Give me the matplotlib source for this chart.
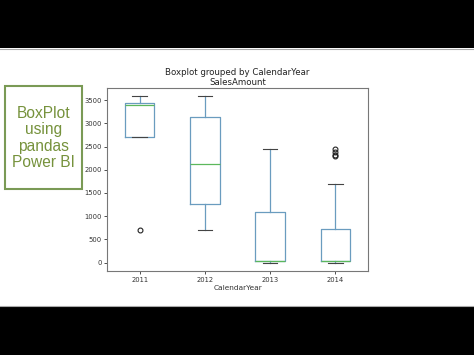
import matplotlib
matplotlib.use('Agg')
import matplotlib.pyplot as plt
from matplotlib.patches import Rectangle

# summary values
years    = ['2011', '2012', '2013', '2014']
q1       = [2700, 1265, 30, 25]
med      = [3400, 2130, 45, 35]
q3       = [3430, 3145, 1095, 735]
whis_lo  = [2700, 699, 2.3, 2.3]
whis_hi  = [3578, 3578, 2443, 1700]
fliers   = [[699], [], [], [2295, 2320, 2384, 2443]]

stats = []
for i in range(len(years)):
    stats.append({'label': years[i], 'q1': q1[i], 'med': med[i], 'q3': q3[i],
                  'whislo': whis_lo[i], 'whishi': whis_hi[i], 'fliers': fliers[i]})

fig = plt.figure(figsize=(4.74, 3.55), dpi=100)
fig.patch.set_facecolor('white')

# letterbox bars
fig.patches.append(Rectangle((0, 1 - 48 / 355), 1, 48 / 355, transform=fig.transFigure,
                             facecolor='black', edgecolor='none', zorder=0))
fig.patches.append(Rectangle((0, 0), 1, 49 / 355, transform=fig.transFigure,
                             facecolor='black', edgecolor='none', zorder=0))
fig.lines.append(plt.Line2D([0, 1], [1 - 48.5 / 355] * 2, transform=fig.transFigure,
                            color='#aaaaaa', lw=0.8))
fig.lines.append(plt.Line2D([0, 1], [49.5 / 355] * 2, transform=fig.transFigure,
                            color='#aaaaaa', lw=0.8))

# green label box
fig.patches.append(Rectangle((5 / 474, 1 - 189 / 355), 77 / 474, 103 / 355,
                             transform=fig.transFigure, facecolor='white',
                             edgecolor='#7a9a55', lw=1.5))
fig.text(43.5 / 474, 1 - 138 / 355, 'BoxPlot\nusing\npandas\nPower BI',
         ha='center', va='center', color='#76923c', fontsize=11.2,
         family='Liberation Sans', linespacing=1.12)

ax = fig.add_axes([107 / 474, 1 - 271 / 355, 261 / 474, 183 / 355])
ax.bxp(stats, widths=0.45,
       boxprops={'color': '#6a9cbf', 'lw': 0.9},
       whiskerprops={'color': '#6a9cbf', 'lw': 0.9},
       capprops={'color': '#444444', 'lw': 0.8},
       medianprops={'color': '#5cb85c', 'lw': 0.9},
       flierprops={'marker': 'o', 'markersize': 3.5, 'markerfacecolor': 'none',
                   'markeredgecolor': '#222222', 'markeredgewidth': 0.8})
ax.set_ylim(-180, 3760)
ax.set_yticks([0, 500, 1000, 1500, 2000, 2500, 3000, 3500])
for s in ax.spines.values():
    s.set_color('#777777')
    s.set_linewidth(0.8)
ax.tick_params(labelsize=4.9, colors='#333333', length=2, width=0.6, pad=2)
ax.set_xlabel('CalendarYear', fontsize=5.3, color='#333333', labelpad=1.5)
ax.set_title('SalesAmount', fontsize=6.2, color='#222222', pad=2)
fig.text(0.5 * (107 + 368) / 474, 1 - 72.5 / 355, 'Boxplot grouped by CalendarYear',
         ha='center', va='center', fontsize=6.2, color='#222222')

fig.savefig('out.png', dpi=100)
